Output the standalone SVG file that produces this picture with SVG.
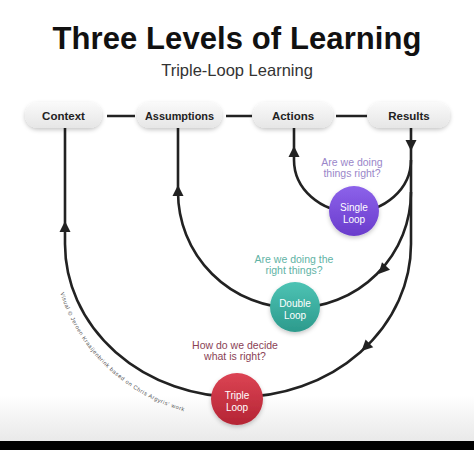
<svg xmlns="http://www.w3.org/2000/svg" width="474" height="450" viewBox="0 0 474 450">
  <defs>
    <style>
      .title { font-family: "Liberation Sans", Arial, sans-serif; font-weight: 700; fill: #111; }
      .sub { font-family: "Liberation Sans", Arial, sans-serif; fill: #333; }
      .pilltxt { font-family: "Liberation Sans", Arial, sans-serif; font-weight: 700; font-size: 11.5px; fill: #222; text-anchor: middle; }
      .q { font-family: "Liberation Sans", Arial, sans-serif; font-size: 10.5px; text-anchor: middle; }
      .ctxt { font-family: "Liberation Sans", Arial, sans-serif; font-size: 10px; fill: #fff; text-anchor: middle; }
      .line { fill: none; stroke: #222; stroke-width: 2.6; }
      .credit { font-family: "Liberation Sans", Arial, sans-serif; font-size: 5.6px; fill: #555; }
    </style>
    <linearGradient id="pillg" x1="0" y1="0" x2="0" y2="1">
      <stop offset="0" stop-color="#fafafa"/>
      <stop offset="1" stop-color="#e6e6e6"/>
    </linearGradient>
    <linearGradient id="purg" x1="0" y1="0" x2="0" y2="1">
      <stop offset="0" stop-color="#8c62ea"/>
      <stop offset="1" stop-color="#6a3ccc"/>
    </linearGradient>
    <linearGradient id="teag" x1="0" y1="0" x2="0" y2="1">
      <stop offset="0" stop-color="#4dc3b4"/>
      <stop offset="1" stop-color="#2c9a8c"/>
    </linearGradient>
    <linearGradient id="redg" x1="0" y1="0" x2="0" y2="1">
      <stop offset="0" stop-color="#dc4454"/>
      <stop offset="1" stop-color="#b42434"/>
    </linearGradient>
    <linearGradient id="floor" x1="0" y1="0" x2="0" y2="1">
      <stop offset="0" stop-color="#ffffff"/>
      <stop offset="1" stop-color="#e9e9e9"/>
    </linearGradient>
    <filter id="sh" x="-30%" y="-30%" width="160%" height="170%">
      <feDropShadow dx="0" dy="2" stdDeviation="2" flood-color="#000" flood-opacity="0.22"/>
    </filter>
    <path id="ah" d="M0,0 L-11,-5.5 L-11,5.5 Z" fill="#222"/>
  </defs>

  <rect x="0" y="0" width="474" height="450" fill="#ffffff"/>
  <rect x="0" y="395" width="474" height="46" fill="url(#floor)"/>
  <rect x="0" y="441" width="474" height="9" fill="#000"/>

  <text class="title" x="237" y="49" font-size="31" text-anchor="middle" textLength="369" lengthAdjust="spacing">Three Levels of Learning</text>
  <text class="sub" x="237" y="76" font-size="16.5" text-anchor="middle">Triple-Loop Learning</text>

  <g id="connectors">
    <path class="line" d="M107,116 H135 M226,116 H252 M336,116 H367"/>
    <path class="line" d="M294,128 V160 A58.5,52 0 0 0 411,160"/>
    <path class="line" d="M178,128 V192 A116.5,116 0 0 0 411,192"/>
    <path class="line" d="M65,128 V244 A173,153 0 0 0 411,244 V128"/>
    <use href="#ah" transform="translate(294,146) rotate(-90)"/>
    <use href="#ah" transform="translate(411,151) rotate(90)"/>
    <use href="#ah" transform="translate(178,185) rotate(-90)"/>
    <use href="#ah" transform="translate(65,221) rotate(-90)"/>
    <use href="#ah" transform="translate(378.5,274) rotate(133)"/>
    <use href="#ah" transform="translate(361.5,351) rotate(136)"/>
  </g>

  <g id="context">
    <rect x="25" y="102" width="77" height="26" rx="13" fill="url(#pillg)" filter="url(#sh)"/>
    <text class="pilltxt" x="63.5" y="120">Context</text>
  </g>
  <g id="assumptions">
    <rect x="137" y="102" width="85" height="26" rx="13" fill="url(#pillg)" filter="url(#sh)"/>
    <text class="pilltxt" x="179.5" y="120" textLength="69" lengthAdjust="spacingAndGlyphs">Assumptions</text>
  </g>
  <g id="actions">
    <rect x="253" y="102" width="80" height="26" rx="13" fill="url(#pillg)" filter="url(#sh)"/>
    <text class="pilltxt" x="293" y="120">Actions</text>
  </g>
  <g id="results">
    <rect x="368" y="102" width="82" height="26" rx="13" fill="url(#pillg)" filter="url(#sh)"/>
    <text class="pilltxt" x="409" y="120">Results</text>
  </g>

  <g id="single-loop">
    <text class="q" x="352" y="166" fill="#9a86c9">Are we doing</text>
    <text class="q" x="352" y="177" fill="#9a86c9">things right?</text>
    <circle cx="354" cy="211" r="25" fill="url(#purg)" filter="url(#sh)"/>
    <text class="ctxt" x="354" y="211">Single</text>
    <text class="ctxt" x="354" y="223">Loop</text>
  </g>

  <g id="double-loop">
    <text class="q" x="294" y="263" fill="#5fb3a5">Are we doing the</text>
    <text class="q" x="294" y="274" fill="#5fb3a5">right things?</text>
    <circle cx="295" cy="307" r="25" fill="url(#teag)" filter="url(#sh)"/>
    <text class="ctxt" x="295" y="307">Double</text>
    <text class="ctxt" x="295" y="319">Loop</text>
  </g>

  <g id="triple-loop">
    <text class="q" x="235" y="349" font-size="11.5" fill="#8a3f55">How do we decide</text>
    <text class="q" x="235" y="360" font-size="11.5" fill="#8a3f55">what is right?</text>
    <circle cx="237" cy="399" r="26" fill="url(#redg)" filter="url(#sh)"/>
    <text class="ctxt" x="237" y="399">Triple</text>
    <text class="ctxt" x="237" y="411">Loop</text>
  </g>

  <path id="creditpath" d="M60,292 A185,175 0 0 0 190,413" fill="none"/>
  <text class="credit"><textPath href="#creditpath" startOffset="1" textLength="178" lengthAdjust="spacing">Visual © Jeroen Kraaijenbrink based on Chris Argyris' work</textPath></text>
</svg>
